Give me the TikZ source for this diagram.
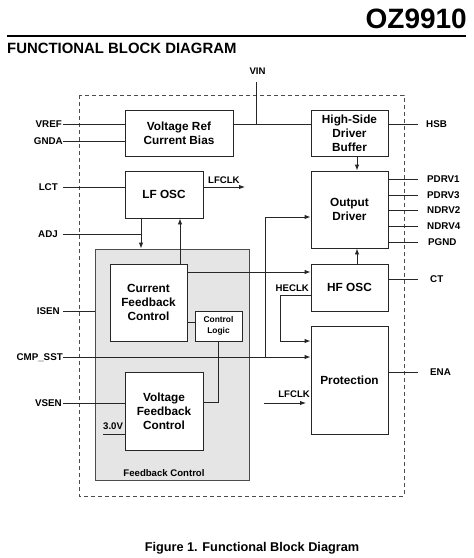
\documentclass[tikz,border=0pt]{standalone}
\usepackage{fontspec}
\setmainfont{Liberation Sans}
\usetikzlibrary{arrows.meta}
\begin{document}
\begin{tikzpicture}[x=1pt,y=-1pt,
  blk/.style={draw=black!85, line width=0.9pt, fill=white, align=center, inner sep=0pt, font=\fontsize{11.8}{14}\selectfont\bfseries},
  smallblk/.style={blk, font=\fontsize{8.4}{11}\selectfont\bfseries},
  pinl/.style={anchor=base east, inner sep=0pt, font=\fontsize{9.8}{11}\selectfont\bfseries},
  pinr/.style={anchor=base west, inner sep=0pt, font=\fontsize{9.8}{11}\selectfont\bfseries},
  lbl/.style={inner sep=0pt, font=\fontsize{9.6}{11}\selectfont\bfseries},
  wire/.style={line width=0.9pt, draw=black!85},
  arr/.style={wire, -{Latex[length=6pt,width=4.5pt]}},
]
\useasboundingbox (0,0) rectangle (474,558);

% header
\node[anchor=base east, inner sep=0pt, font=\fontsize{28}{30}\selectfont\bfseries] (title) at (467,28) {OZ9910};
\draw[line width=1.6pt] (7,36) -- (466,36);
\node[anchor=base west, inner sep=0pt, font=\fontsize{14.9}{16}\selectfont\bfseries] (sub) at (7,53) {FUNCTIONAL BLOCK DIAGRAM};
\node[anchor=base, inner sep=0pt, font=\fontsize{12.7}{14}\selectfont\bfseries] (cap) at (252,551) {Figure 1. Functional Block Diagram};

% chip outline and feedback group
\draw[line width=0.9pt, draw=black!70, dash pattern=on 4pt off 3pt] (79,95) rectangle (404,496);
\node[draw=black!70, line width=0.9pt, fill=gray!20, minimum width=154pt, minimum height=231pt, inner sep=0pt] (fb) at (172,364.5) {};
\node[lbl, anchor=base] (fbl) at (164,476) {Feedback Control};

% blocks
\node[blk, minimum width=108pt, minimum height=46pt] (vr) at (179,133) {Voltage Ref\\Current Bias};
\node[blk, minimum width=77pt, minimum height=46pt] (hs) at (349.5,133) {High-Side\\Driver\\Buffer};
\node[blk, minimum width=77pt, minimum height=77pt] (od) at (349.5,209.5) {Output\\Driver};
\node[blk, minimum width=78pt, minimum height=47pt] (lf) at (164,194.5) {LF OSC};
\node[blk, minimum width=77pt, minimum height=47pt] (hf) at (349.5,287.5) {HF OSC};
\node[blk, minimum width=77pt, minimum height=108pt] (pr) at (349.5,380) {Protection};
\node[blk, minimum width=77pt, minimum height=77pt] (cfc) at (148.5,302.5) {Current\\Feedback\\Control};
\node[smallblk, minimum width=47pt, minimum height=30pt] (cl) at (218.5,326) {Control\\Logic};
\node[blk, minimum width=78pt, minimum height=78pt] (vfc) at (164,411) {Voltage\\Feedback\\Control};

% helper coordinates
\coordinate (x141) at (141,0);
\coordinate (x180) at (180,0);
\coordinate (x218) at (218,0);
\coordinate (x357) at (357,0);
\coordinate (y124) at (0,124);
\coordinate (y187) at (0,187);
\coordinate (y217) at (0,217);
\coordinate (y272) at (0,272);
\coordinate (y295) at (0,295);
\coordinate (y322) at (0,322);
\coordinate (y341) at (0,341);
\coordinate (y402) at (0,402);

% left pins
\coordinate (pVREF) at (63,124);  \node[pinl] (lVREF) at (62,127.5) {VREF};
\coordinate (pGNDA) at (63,141);  \node[pinl] (lGNDA) at (63,144.5) {GNDA};
\coordinate (pLCT) at (63,187);   \node[pinl] (lLCT) at (58,190.5) {LCT};
\coordinate (pADJ) at (63,234);   \node[pinl] (lADJ) at (58,237.5) {ADJ};
\coordinate (pISEN) at (63,311);  \node[pinl] (lISEN) at (60,314.5) {ISEN};
\coordinate (pCMP) at (63,357);   \node[pinl] (lCMP) at (63,360.5) {CMP\_SST};
\coordinate (pVSEN) at (63,403);  \node[pinl] (lVSEN) at (62,406.5) {VSEN};
\coordinate (p30) at (103,434);   \node[lbl, anchor=base west] (l30) at (103,429.5) {3.0V};

\draw[wire] (pVREF) -- (vr.west |- pVREF);
\draw[wire] (pGNDA) -- (vr.west |- pGNDA);
\draw[wire] (pLCT) -- (lf.west |- pLCT);
\coordinate (jadj) at (141,234);
\draw[wire] (pADJ) -- (jadj);
\draw[wire] (pISEN) -- (fb.west |- pISEN);
\draw[wire] (pVSEN) -- (vfc.west |- pVSEN);
\draw[wire] (p30) -- (vfc.west |- p30);

% right pins
\coordinate (pHSB) at (418,124);  \node[pinr] (lHSB) at (426,127.5) {HSB};
\coordinate (pP1) at (418,179);   \node[pinr] (lP1) at (427,182.5) {PDRV1};
\coordinate (pP3) at (418,195);   \node[pinr] (lP3) at (427,198.5) {PDRV3};
\coordinate (pN2) at (418,210);   \node[pinr] (lN2) at (427,213.5) {NDRV2};
\coordinate (pN4) at (418,226);   \node[pinr] (lN4) at (427,229.5) {NDRV4};
\coordinate (pPG) at (418,242);   \node[pinr] (lPG) at (428,245.5) {PGND};
\coordinate (pCT) at (418,279);   \node[pinr] (lCT) at (430,282.5) {CT};
\coordinate (pENA) at (418,372);  \node[pinr] (lENA) at (430,375.5) {ENA};

\draw[wire] (hs.east |- pHSB) -- (pHSB);
\draw[wire] (od.east |- pP1) -- (pP1);
\draw[wire] (od.east |- pP3) -- (pP3);
\draw[wire] (od.east |- pN2) -- (pN2);
\draw[wire] (od.east |- pN4) -- (pN4);
\draw[wire] (od.east |- pPG) -- (pPG);
\draw[wire] (hf.east |- pCT) -- (pCT);
\draw[wire] (pr.east |- pENA) -- (pENA);

% VIN
\node[lbl, anchor=base] (vin) at (257.5,74.5) {VIN};
\coordinate (vintop) at (256,82);
\coordinate (vinj) at (256,124);
\draw[wire] (vintop) -- (vinj);
\draw[wire] (vr.east |- y124) -- (hs.west |- y124);

% internal connections
\draw[arr] (hs.south -| x357) -- (od.north -| x357);
\draw[arr] (hf.north -| x357) -- (od.south -| x357);
\draw[arr] (lf.east |- y187) -- (245,187) coordinate (lfout);
\node[lbl, anchor=base west] (lfclk1) at (208,183.5) {LFCLK};
\draw[arr] (lf.south -| x141) -- (fb.north -| x141);
\draw[arr] (cfc.north -| x180) -- (lf.south -| x180);
\draw[arr] (cfc.east |- y272) -- (hf.west |- y272);
\draw[wire] (cfc.east |- y322) -- (cl.west |- y322);
\draw[wire] (cl.south -| x218) |- (vfc.east |- y402);
\draw[arr] (pCMP) -- (pr.west |- pCMP);
\coordinate (j265) at (265,357);
\draw[arr] (j265) |- (od.west |- y217);
\coordinate (hec) at (280,295);
\node[lbl, anchor=base east] (heclk) at (309,291.5) {HECLK};
\draw[arr] (hf.west |- y295) -- (hec) |- (pr.west |- y341);
\coordinate (lfin) at (264,403);
\coordinate (lfend) at (306,403);
\draw[arr] (lfin) -- (lfend);
\node[lbl, anchor=base east] (lfclk2) at (310,397.5) {LFCLK};
\end{tikzpicture}
\end{document}
